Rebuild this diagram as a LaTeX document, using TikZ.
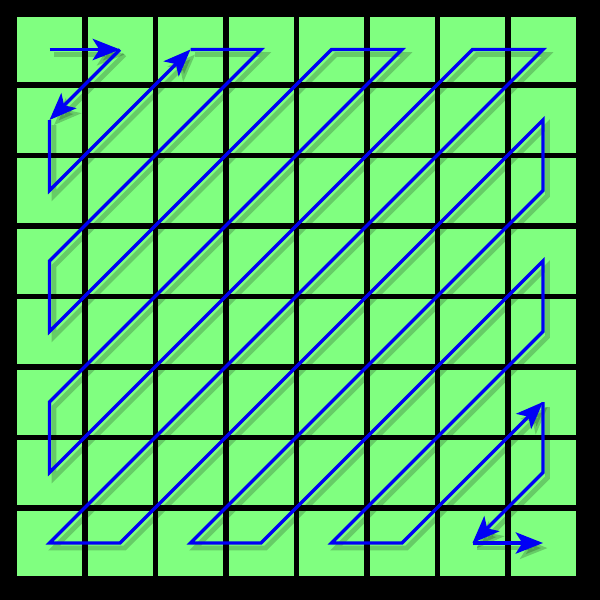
\documentclass[tikz,border=0pt]{standalone}
\usetikzlibrary{arrows.meta}
\definecolor{sqgreen}{RGB}{128,255,128}
\definecolor{zzblue}{RGB}{0,0,245}
\newcommand\zzpaths{%
  \draw[zz] (c00) -- (c10);
  \draw[zz] (c10) -- (c01);
  \draw[zz] (c01) -- (c02) -- (c20);
  \draw[zz] (c20) -- (c30) -- (c03) -- (c04) -- (c40) -- (c50) -- (c05) -- (c06) -- (c60) -- (c70)
     -- (c07) -- (c17) -- (c71) -- (c72) -- (c27) -- (c37) -- (c73) -- (c74) -- (c47) -- (c57) -- (c75);
  \draw[zz] (c75) -- (c76) -- (c67);
  \draw[zz] (c67) -- (c77);
}
\begin{document}
\begin{tikzpicture}[x=0.75pt,y=-0.75pt,
  sq/.style={fill=sqgreen},
  zzbase/.style={line width=2.4pt,line join=miter,
     -{Stealth[length=20.5pt,width=16pt,inset=5pt]}},
  zzline/.style={zzbase,draw=zzblue},
  zzshadow/.style={zzbase,line width=3.6pt,draw=black,opacity=0.2}]
\useasboundingbox (0,0) rectangle (600,600);
\fill[black] (0,0) rectangle (600,600);
\foreach \i in {0,...,7}{
  \foreach \j in {0,...,7}{
    \fill[sq] ({17+70.5*\i},{17+70.5*\j}) rectangle ++(65,65);
    \coordinate (c\i\j) at ({49.5+70.5*\i},{49.5+70.5*\j});
  }
}
\begin{scope}[transform canvas={shift={(3.4pt,-3.8pt)}},zz/.style={zzshadow}]
  \zzpaths
\end{scope}
\begin{scope}[zz/.style={zzline}]
  \zzpaths
\end{scope}
\end{tikzpicture}
\end{document}
